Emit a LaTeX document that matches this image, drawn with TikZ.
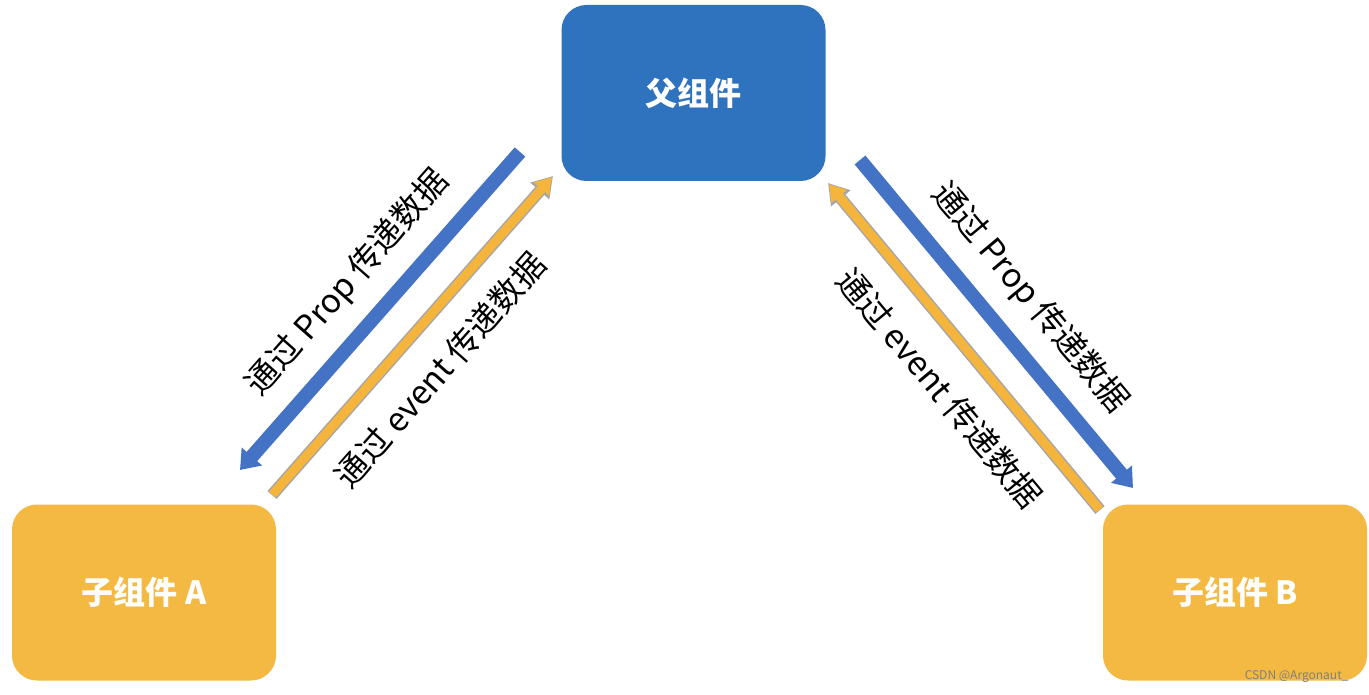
\documentclass[tikz,border=0pt]{standalone}
\usepackage{fontspec}
\setmainfont{Noto Sans CJK SC}
\usetikzlibrary{arrows.meta,calc}
\definecolor{pblue}{HTML}{2F72BE}
\definecolor{ablue}{HTML}{4472C4}
\definecolor{cyel}{HTML}{F4B942}
\definecolor{ayel}{HTML}{F5B53D}
\tikzset{
 box/.style={rounded corners=25pt,minimum width=264pt,minimum height=176pt,inner sep=0pt,font=\fontsize{32}{38}\selectfont\bfseries},
 lab/.style={font=\fontsize{33}{38}\selectfont,inner sep=0pt},
 bluearr/.style={line width=14pt,ablue,-{Triangle[length=18pt,width=26pt]}},
 yelout/.style={line width=12pt,gray!70,-{Triangle[length=20pt,width=24pt]}},
 yelarr/.style={line width=9pt,ayel,-{Triangle[length=16pt,width=19pt]}}
}
\begin{document}
\begin{tikzpicture}[x=1pt,y=-1pt]
\useasboundingbox[fill=white] (0,0) rectangle (1369,695);
\node[box,fill=pblue,text=white] (p) at (693.5,93) {父组件};
\node[box,fill=cyel,text=white] (a) at (144,592.5) {子组件 A};
\node[box,fill=cyel,text=white] (b) at (1235,592.5) {子组件 B};
\coordinate (l1s) at (520,152); \coordinate (l1e) at (240,470);
\coordinate (l2s) at (272,495); \coordinate (l2e) at (553,176);
\coordinate (r1s) at (860,160); \coordinate (r1e) at (1133,488);
\coordinate (r2s) at (1100,510); \coordinate (r2e) at (828,183);
\draw[bluearr] (l1s) -- (l1e);
\draw[yelout] (l2s) -- (l2e);
\draw[yelarr] ($(l2s)!0.6pt!(l2e)$) -- ($(l2e)!1.5pt!(l2s)$);
\draw[bluearr] (r1s) -- (r1e);
\draw[yelout] (r2s) -- (r2e);
\draw[yelarr] ($(r2s)!0.6pt!(r2e)$) -- ($(r2e)!1.5pt!(r2s)$);
\node[lab,rotate=48.6] (t1) at (348,283) {通过 Prop 传递数据};
\node[lab,rotate=48.6] (t2) at (440,370) {通过 event 传递数据};
\node[lab,rotate=-50.2] (t3) at (1030,298) {通过 Prop 传递数据};
\node[lab,rotate=-50.2] (t4) at (940,388) {通过 event 传递数据};
\node[font=\fontsize{12}{14}\selectfont,text=gray,anchor=east] (w) at (1352,677) {CSDN @Argonaut\_};
\end{tikzpicture}
\end{document}
